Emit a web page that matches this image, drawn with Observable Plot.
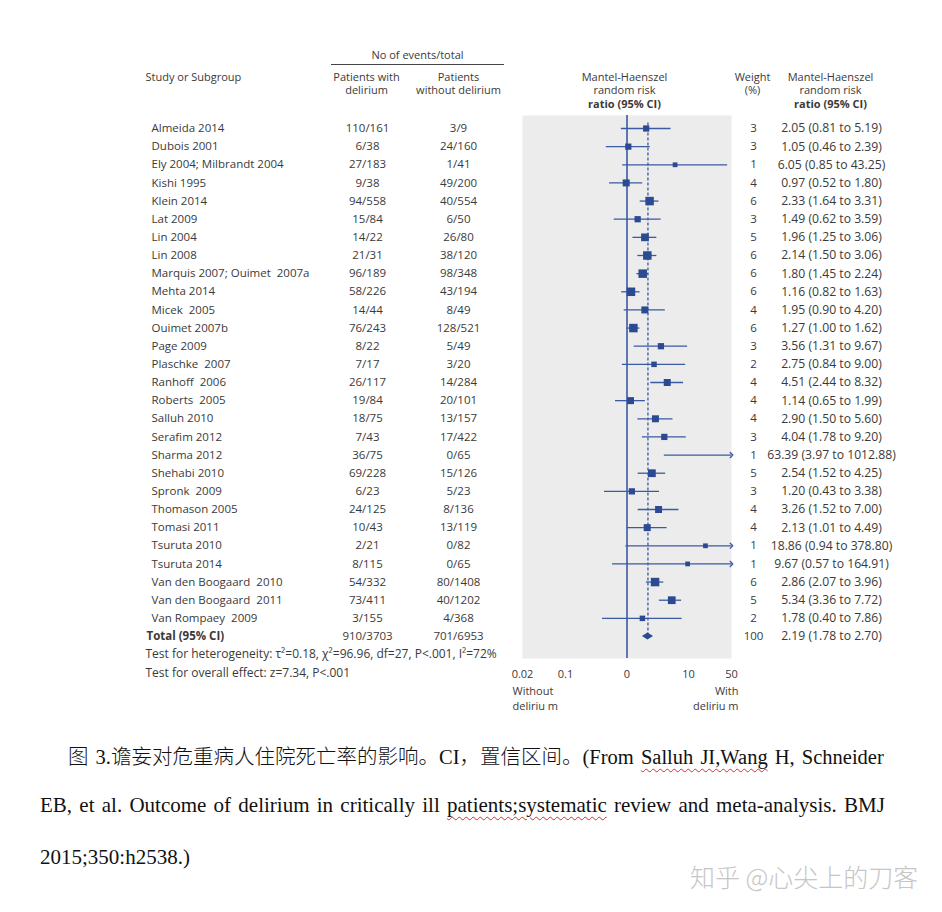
<!DOCTYPE html>
<html><head><meta charset="utf-8">
<script src="https://cdn.jsdelivr.net/npm/d3@7"></script>
<script src="https://cdn.jsdelivr.net/npm/@observablehq/plot@0.6"></script>
<style>
body{margin:0;background:#fff;}
#wrap{position:relative;width:942px;height:912px;overflow:hidden;background:#fff;}
#chart svg{display:block;}
.cap{position:absolute;font-family:"Liberation Serif","Noto Sans CJK SC",serif;font-size:21px;line-height:24px;color:#111;white-space:nowrap;font-weight:300;}
.wavy{text-decoration:underline wavy #d0312d;text-decoration-thickness:1px;text-underline-offset:4px;}
#hline{position:absolute;left:331px;top:64px;width:173px;height:0;border-top:1.2px solid #444;}
#wm{position:absolute;left:690px;top:858px;font-family:"Noto Sans CJK SC",sans-serif;font-size:25px;font-weight:300;color:#c6c6c6;white-space:nowrap;}
</style></head>
<body><div id="wrap"><div id="chart"></div><div id="hline"></div>
<div class="cap" style="left:68px;top:745px;font-size:20.5px;word-spacing:2px;">图 3.谵妄对危重病人住院死亡率的影响。CI，置信区间。(From <span class="wavy">Salluh JI,Wang</span> H, Schneider</div>
<div class="cap" style="left:40px;top:793px;word-spacing:2px;">EB, et al. Outcome of delirium in critically ill <span class="wavy">patients;systematic</span> review and meta-analysis. BMJ</div>
<div class="cap" style="left:40px;top:845px;">2015;350:h2538.)</div>
<div id="wm">知乎 @心尖上的刀客</div>
</div>
<script>
const studies = ["Almeida 2014","Dubois 2001","Ely 2004; Milbrandt 2004","Kishi 1995","Klein 2014","Lat 2009","Lin 2004","Lin 2008","Marquis 2007; Ouimet  2007a","Mehta 2014","Micek  2005","Ouimet 2007b","Page 2009","Plaschke  2007","Ranhoff  2006","Roberts  2005","Salluh 2010","Serafim 2012","Sharma 2012","Shehabi 2010","Spronk  2009","Thomason 2005","Tomasi 2011","Tsuruta 2010","Tsuruta 2014","Van den Boogaard  2010","Van den Boogaard  2011","Van Rompaey  2009"];
const eventsWith = ["110/161","6/38","27/183","9/38","94/558","15/84","14/22","21/31","96/189","58/226","14/44","76/243","8/22","7/17","26/117","19/84","18/75","7/43","36/75","69/228","6/23","24/125","10/43","2/21","8/115","54/332","73/411","3/155"];
const eventsWithout = ["3/9","24/160","1/41","49/200","40/554","6/50","26/80","38/120","98/348","43/194","8/49","128/521","5/49","3/20","14/284","20/101","13/157","17/422","0/65","15/126","5/23","8/136","13/119","0/82","0/65","80/1408","40/1202","4/368"];
const weights = [3,3,1,4,6,3,5,6,6,6,4,6,3,2,4,4,4,3,1,5,3,4,4,1,1,6,5,2];
const riskRatio = [2.05,1.05,6.05,0.97,2.33,1.49,1.96,2.14,1.80,1.16,1.95,1.27,3.56,2.75,4.51,1.14,2.90,4.04,63.39,2.54,1.20,3.26,2.13,18.86,9.67,2.86,5.34,1.78];
const ciLow = [0.81,0.46,0.85,0.52,1.64,0.62,1.25,1.50,1.45,0.82,0.90,1.00,1.31,0.84,2.44,0.65,1.50,1.78,3.97,1.52,0.43,1.52,1.01,0.94,0.57,2.07,3.36,0.40];
const ciHigh = [5.19,2.39,43.25,1.80,3.31,3.59,3.06,3.06,2.24,1.63,4.20,1.62,9.67,9.00,8.32,1.99,5.60,9.20,1012.88,4.25,3.38,7.00,4.49,378.80,164.91,3.96,7.72,7.86];
const totalLabel = "Total (95% CI)";
const totalWith = "910/3703", totalWithout = "701/6953", totalWeight = 100;
const totalRR = 2.19, totalLow = 1.78, totalHigh = 2.70;
const xTicks = [0.02, 0.1, 1, 10, 50];
const xTickLabels = ["0.02", "0.1", "0", "10", "50"];

const rows = studies.map((s, i) => ({i, name: s, ew: eventsWith[i], eo: eventsWithout[i], w: weights[i], rr: riskRatio[i], lo: ciLow[i], hi: ciHigh[i]}));
const totalRow = {i: rows.length, name: totalLabel, ew: totalWith, eo: totalWithout, w: totalWeight, rr: totalRR, lo: totalLow, hi: totalHigh};
const allRows = [...rows, totalRow];
const ticks = xTicks.map((v, k) => ({v, label: xTickLabels[k]}));
const XMIN = xTicks[0], XMAX = xTicks[xTicks.length - 1];
const f2 = v => v.toFixed(2);
const ciText = d => `${f2(d.rr)} (${f2(d.lo)} to ${f2(d.hi)})`;
const inRange = rows.filter(d => d.hi <= XMAX);
const beyond = rows.filter(d => d.hi > XMAX);
const shown = rows.filter(d => d.rr <= XMAX);
const dh = 0.19;
const diamond = [
  {y: totalRow.i - dh, x1: totalRR, x2: totalRR},
  {y: totalRow.i, x1: totalLow, x2: totalHigh},
  {y: totalRow.i + dh, x1: totalRR, x2: totalRR}
];

const W = 942, H = 720, ML = 522, MR = 211, MT = 115, MB = 62;
const BLUE = "#2b4a91", LINE = "#3a5aa2", TXT = "#3a3a3a";
const hdr = (t, x, y, anchor = "middle", bold = false, size = 11) => Plot.text([t], {
  text: d => d, frameAnchor: "top-left", dx: x - ML, dy: y - MT,
  textAnchor: anchor, lineAnchor: "middle", fill: TXT, fontWeight: bold ? "bold" : "normal", fontSize: size
});
const col = (data, key, x, anchor, bold = false, size = 11.5) => Plot.text(data, {
  y: "i", text: key, frameAnchor: "left", dx: x - ML, textAnchor: anchor,
  fill: TXT, fontWeight: bold ? "bold" : "normal", fontSize: size
});

const chart = Plot.plot({
  width: W, height: H,
  marginLeft: ML, marginRight: MR, marginTop: MT, marginBottom: MB,
  style: {fontFamily: "'Open Sans', sans-serif", fontSize: "11px", color: TXT, background: "transparent"},
  x: {type: "log", domain: [XMIN, XMAX], axis: null},
  y: {domain: [0, totalRow.i], range: [128, 636], axis: null},
  r: {type: "identity"},
  marks: [
    Plot.frame({fill: "#ececec", stroke: null}),
    Plot.text(ticks, {x: "v", text: "label", frameAnchor: "bottom", dy: 16, lineAnchor: "middle", fill: TXT, fontSize: 11}),
    Plot.ruleX([1], {stroke: LINE, strokeWidth: 1.6}),
    Plot.ruleX([totalRow], {x: "rr", y1: () => -0.3, y2: () => totalRow.i, stroke: LINE, strokeWidth: 1.3, strokeDasharray: "3,2"}),
    Plot.ruleY(inRange, {y: "i", x1: "lo", x2: "hi", stroke: LINE, strokeWidth: 1.3}),
    Plot.link(beyond, {x1: "lo", x2: () => XMAX, y1: "i", y2: "i", stroke: LINE, strokeWidth: 1.3, markerEnd: "arrow"}),
    Plot.dot(shown, {x: "rr", y: "i", symbol: "square", r: d => (4 + 0.75 * d.w) / Math.sqrt(Math.PI), fill: BLUE, stroke: null}),
    Plot.areaX(diamond, {y: "y", x1: "x1", x2: "x2", fill: BLUE, curve: "linear"}),
    col(rows, "name", 151, "start"),
    col([totalRow], "name", 146, "start", true),
    col(allRows, "ew", 367, "middle"),
    col(allRows, "eo", 458, "middle"),
    col(allRows, "w", 753, "middle"),
    col(allRows, ciText, 831, "middle", false, 12.2),
    hdr("No of events/total", 417, 55),
    hdr("Study or Subgroup", 145, 77, "start"),
    hdr("Patients with", 366, 76.5), hdr("delirium", 366, 90),
    hdr("Patients", 458, 76.5), hdr("without delirium", 458, 90),
    hdr("Mantel-Haenszel", 624, 76.5), hdr("random risk", 624, 90), hdr("ratio (95% CI)", 624, 103.5, "middle", true),
    hdr("Weight", 752, 76.5), hdr("(%)", 752, 90),
    hdr("Mantel-Haenszel", 830, 76.5), hdr("random risk", 830, 90), hdr("ratio (95% CI)", 830, 103.5, "middle", true),
    hdr("Test for heterogeneity: τ²=0.18, χ²=96.96, df=27, P<.001, I²=72%", 145, 654, "start", false, 12),
    hdr("Test for overall effect: z=7.34, P<.001", 145, 673, "start", false, 12),
    hdr("Without", 512, 691, "start"), hdr("deliriu m", 512, 706, "start"),
    hdr("With", 738, 691, "end"), hdr("deliriu m", 738, 706, "end")
  ]
});
document.getElementById("chart").appendChild(chart);
</script>
</body></html>
